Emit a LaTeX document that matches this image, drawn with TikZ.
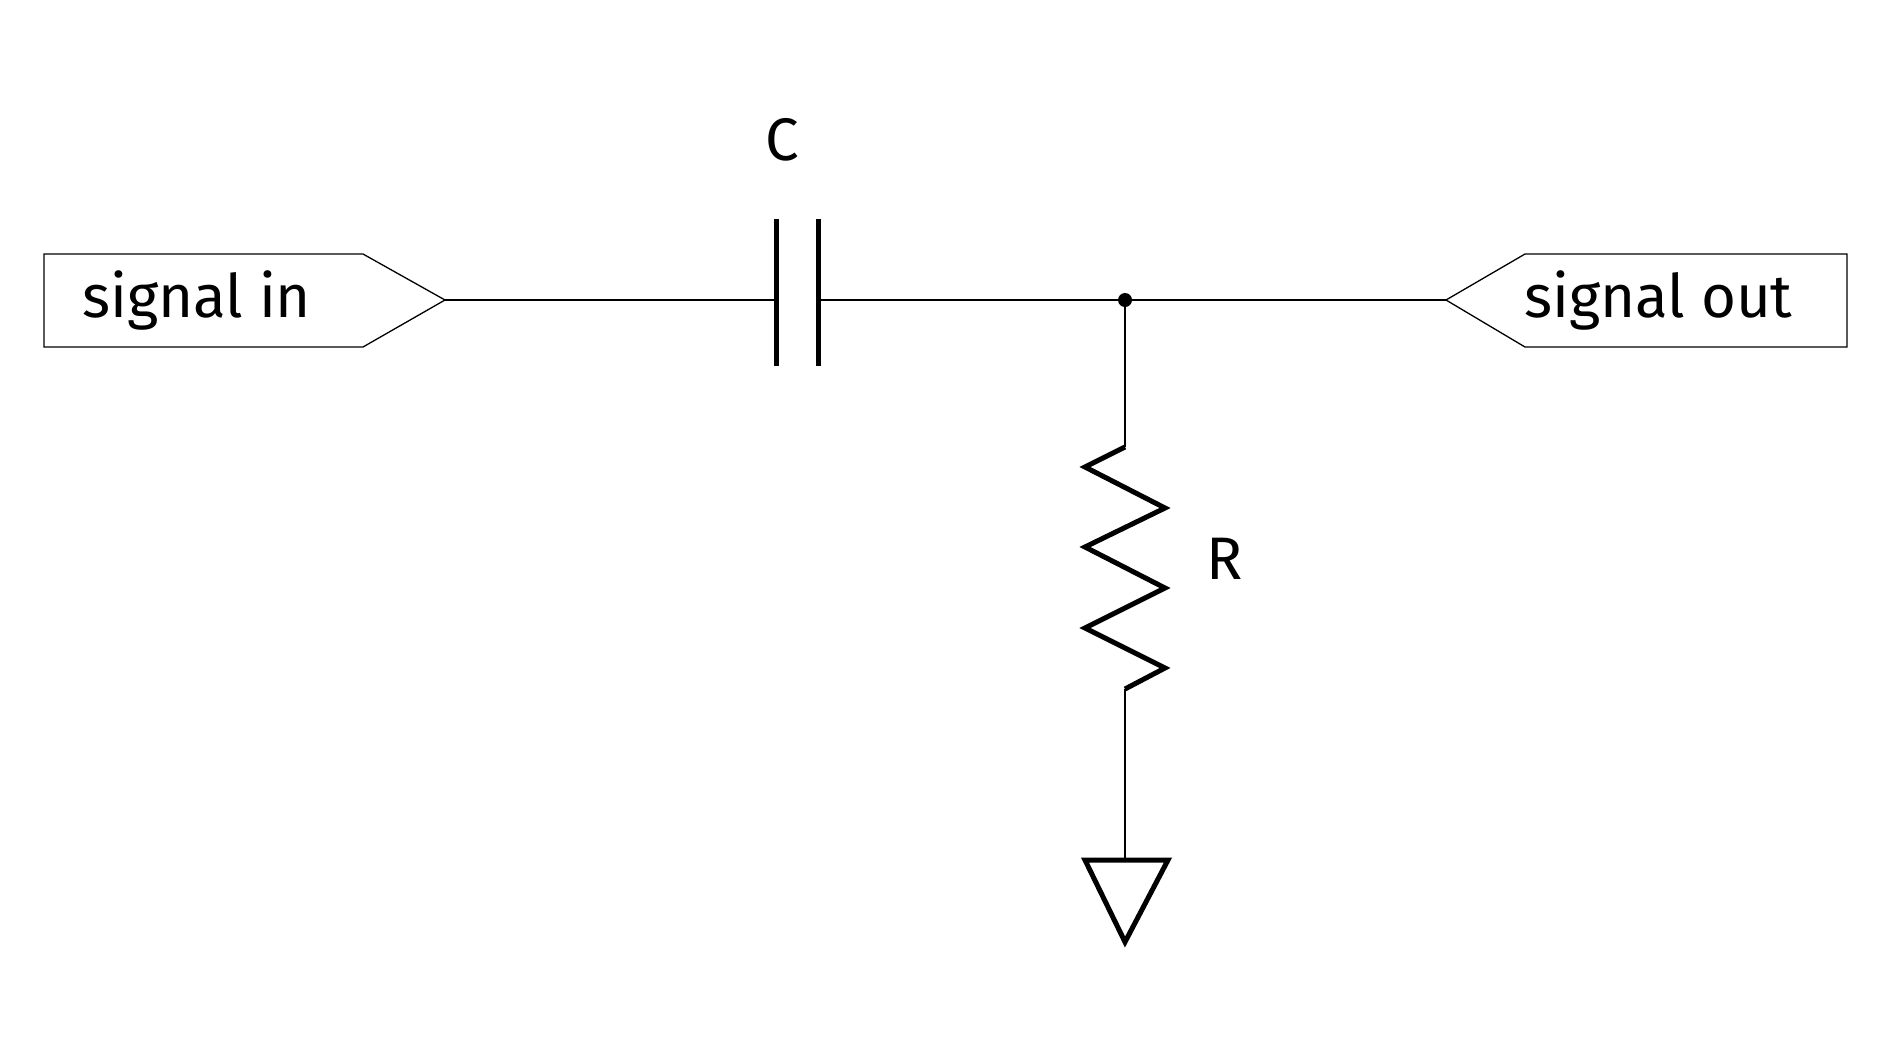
\documentclass[tikz,border=0pt]{standalone}
\usepackage{fontspec}
\setmainfont{Fira Sans}
\begin{document}
\begin{tikzpicture}[x=1pt,y=-1pt,
  wire/.style={line width=1.3pt},
  thick comp/.style={line width=5pt,line join=miter},
  lbl/.style={font=\fontsize{60}{70}\selectfont,inner sep=0pt}]
\useasboundingbox (0,0) rectangle (1896,1058);
% signal in
\draw[wire] (44,254) -- (363,254) -- (445,300) -- (363,347) -- (44,347) -- cycle;
\node[lbl,anchor=west] (sin) at (82,300) {signal in};
\coordinate (pin) at (445,300);
% signal out
\draw[wire] (1847,254) -- (1525,254) -- (1446,300) -- (1525,347) -- (1847,347) -- cycle;
\node[lbl,anchor=west] (sout) at (1524,300) {signal out};
\coordinate (pout) at (1446,300);
% capacitor
\coordinate (c1) at (776,300);
\coordinate (c2) at (818,300);
\draw[thick comp] (776,219) -- (776,366);
\draw[thick comp] (818,219) -- (818,366);
\node[lbl] (C) at (782,140) {C};
% junction
\coordinate (j) at (1125,300);
\fill (j) circle (7);
\draw[wire] (pin) -- (c1);
\draw[wire] (c2) -- (j) -- (pout);
% resistor
\coordinate (rt) at (1125,447);
\coordinate (rb) at (1125,689);
\draw[wire] (j) -- (rt);
\draw[thick comp] (rt) -- (1085,467) -- (1165,508) -- (1085,547) -- (1165,588) -- (1085,628) -- (1165,668) -- (rb);
\node[lbl] (R) at (1225,559) {R};
% ground
\coordinate (g) at (1125,860);
\draw[wire] (rb) -- (g);
\draw[thick comp] (1085,860) -- (1168,860) -- (1125,942) -- cycle;
\end{tikzpicture}
\end{document}
